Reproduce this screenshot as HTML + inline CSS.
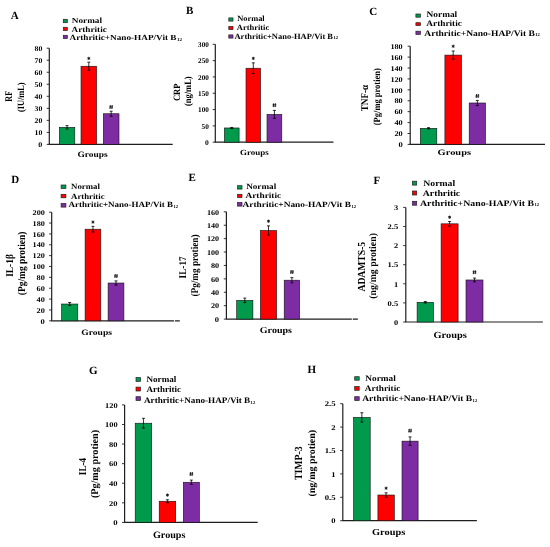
<!DOCTYPE html><html><head><meta charset="utf-8"><style>
html,body{margin:0;padding:0;background:#fff;}
svg{display:block;will-change:transform;}
text{font-family:"Liberation Serif",serif;font-weight:bold;fill:#000;text-rendering:geometricPrecision;}
</style></head><body>
<svg width="550" height="547" viewBox="0 0 550 547">
<rect width="550" height="547" fill="#fff"/>
<text x="14.7" y="18.7" font-size="11" text-anchor="middle">A</text>
<rect x="63.30" y="19.30" width="4.00" height="3.40" fill="#009A4D" stroke="#222" stroke-width="0.7"/>
<rect x="63.30" y="27.30" width="4.00" height="3.30" fill="#FF0000" stroke="#222" stroke-width="0.7"/>
<rect x="63.30" y="35.30" width="4.00" height="3.20" fill="#7D2CA3" stroke="#222" stroke-width="0.7"/>
<text x="71.8" y="22.7" font-size="7.8" textLength="30.20" lengthAdjust="spacingAndGlyphs">Normal</text>
<text x="71.6" y="31.6" font-size="7.8" textLength="35.20" lengthAdjust="spacingAndGlyphs">Arthritic</text>
<text x="69.5" y="40.2" font-size="7.8" textLength="107.00" lengthAdjust="spacingAndGlyphs">Arthritic+Nano-HAP/Vit B</text>
<text x="176.90" y="40.80" font-size="4.6" textLength="5.10" lengthAdjust="spacingAndGlyphs">12</text>
<line x1="49.3" y1="48.20" x2="49.3" y2="144.40" stroke="#1e1e1e" stroke-width="1.2"/>
<line x1="48.80" y1="144.40" x2="172.7" y2="144.40" stroke="#1e1e1e" stroke-width="1.2"/>
<line x1="46.70" y1="144.40" x2="49.3" y2="144.40" stroke="#1e1e1e" stroke-width="0.9"/>
<text x="38.25" y="147.10" font-size="7.2" textLength="4.05" lengthAdjust="spacingAndGlyphs">0</text>
<line x1="46.70" y1="132.38" x2="49.3" y2="132.38" stroke="#1e1e1e" stroke-width="0.9"/>
<text x="34.50" y="135.07" font-size="7.2" textLength="7.80" lengthAdjust="spacingAndGlyphs">10</text>
<line x1="46.70" y1="120.35" x2="49.3" y2="120.35" stroke="#1e1e1e" stroke-width="0.9"/>
<text x="34.50" y="123.05" font-size="7.2" textLength="7.80" lengthAdjust="spacingAndGlyphs">20</text>
<line x1="46.70" y1="108.33" x2="49.3" y2="108.33" stroke="#1e1e1e" stroke-width="0.9"/>
<text x="34.50" y="111.03" font-size="7.2" textLength="7.80" lengthAdjust="spacingAndGlyphs">30</text>
<line x1="46.70" y1="96.30" x2="49.3" y2="96.30" stroke="#1e1e1e" stroke-width="0.9"/>
<text x="34.50" y="99.00" font-size="7.2" textLength="7.80" lengthAdjust="spacingAndGlyphs">40</text>
<line x1="46.70" y1="84.28" x2="49.3" y2="84.28" stroke="#1e1e1e" stroke-width="0.9"/>
<text x="34.50" y="86.98" font-size="7.2" textLength="7.80" lengthAdjust="spacingAndGlyphs">50</text>
<line x1="46.70" y1="72.25" x2="49.3" y2="72.25" stroke="#1e1e1e" stroke-width="0.9"/>
<text x="34.50" y="74.95" font-size="7.2" textLength="7.80" lengthAdjust="spacingAndGlyphs">60</text>
<line x1="46.70" y1="60.22" x2="49.3" y2="60.22" stroke="#1e1e1e" stroke-width="0.9"/>
<text x="34.50" y="62.92" font-size="7.2" textLength="7.80" lengthAdjust="spacingAndGlyphs">70</text>
<line x1="46.70" y1="48.20" x2="49.3" y2="48.20" stroke="#1e1e1e" stroke-width="0.9"/>
<text x="34.50" y="50.90" font-size="7.2" textLength="7.80" lengthAdjust="spacingAndGlyphs">80</text>
<rect x="59.3" y="127.32" width="15.50" height="17.08" fill="#009A4D" stroke="#111" stroke-width="0.6"/>
<line x1="67.05" y1="125.64" x2="67.05" y2="129.01" stroke="#000" stroke-width="0.8"/>
<line x1="65.55" y1="125.64" x2="68.55" y2="125.64" stroke="#000" stroke-width="0.8"/>
<line x1="65.55" y1="129.01" x2="68.55" y2="129.01" stroke="#000" stroke-width="0.8"/>
<rect x="81.0" y="66.24" width="15.60" height="78.16" fill="#FF0000" stroke="#111" stroke-width="0.6"/>
<line x1="88.80" y1="62.15" x2="88.80" y2="70.33" stroke="#000" stroke-width="0.8"/>
<line x1="87.30" y1="62.15" x2="90.30" y2="62.15" stroke="#000" stroke-width="0.8"/>
<line x1="87.30" y1="70.33" x2="90.30" y2="70.33" stroke="#000" stroke-width="0.8"/>
<rect x="103.3" y="113.74" width="15.70" height="30.66" fill="#7D2CA3" stroke="#111" stroke-width="0.6"/>
<line x1="111.15" y1="111.21" x2="111.15" y2="116.26" stroke="#000" stroke-width="0.8"/>
<line x1="109.65" y1="111.21" x2="112.65" y2="111.21" stroke="#000" stroke-width="0.8"/>
<line x1="109.65" y1="116.26" x2="112.65" y2="116.26" stroke="#000" stroke-width="0.8"/>
<path d="M88.80,56.80V60.00M87.40,57.60L90.20,59.20M87.40,59.20L90.20,57.60" stroke="#1a1a1a" stroke-width="0.9" fill="none"/>
<circle cx="88.80" cy="58.40" r="0.8" fill="#1a1a1a"/>
<path d="M110.05,108.90L110.45,105.10M111.85,108.90L112.25,105.10" stroke="#111" stroke-width="0.9" fill="none"/>
<path d="M109.25,106.25H113.05M109.25,107.75H113.05" stroke="#111" stroke-width="0.65" fill="none"/>
<text transform="translate(11.7,96.3) scale(1.12,1) rotate(-90)" x="0" y="0" font-size="9.2" text-anchor="middle" textLength="10.8" lengthAdjust="spacingAndGlyphs">RF</text>
<text transform="translate(24.0,97.2) scale(1.12,1) rotate(-90)" x="0" y="0" font-size="8.5" text-anchor="middle" textLength="29.5" lengthAdjust="spacingAndGlyphs">(IU/mL)</text>
<text x="77.5" y="157.0" font-size="8.2" textLength="30.30" lengthAdjust="spacingAndGlyphs">Groups</text>
<text x="189.6" y="14.3" font-size="11" text-anchor="middle">B</text>
<rect x="228.80" y="17.90" width="4.20" height="3.20" fill="#009A4D" stroke="#222" stroke-width="0.7"/>
<rect x="228.80" y="26.40" width="4.20" height="3.20" fill="#FF0000" stroke="#222" stroke-width="0.7"/>
<rect x="228.80" y="34.90" width="4.20" height="3.20" fill="#7D2CA3" stroke="#222" stroke-width="0.7"/>
<text x="237.3" y="21.4" font-size="7.9" textLength="27.40" lengthAdjust="spacingAndGlyphs">Normal</text>
<text x="236.8" y="30.1" font-size="7.9" textLength="32.40" lengthAdjust="spacingAndGlyphs">Arthritic</text>
<text x="234.5" y="38.7" font-size="7.9" textLength="98.50" lengthAdjust="spacingAndGlyphs">Arthritic+Nano-HAP/Vit B</text>
<text x="333.40" y="39.30" font-size="4.6" textLength="4.60" lengthAdjust="spacingAndGlyphs">12</text>
<line x1="215.3" y1="44.30" x2="215.3" y2="142.20" stroke="#1e1e1e" stroke-width="1.2"/>
<line x1="214.80" y1="142.20" x2="333.5" y2="142.20" stroke="#1e1e1e" stroke-width="1.2"/>
<line x1="212.70" y1="142.20" x2="215.3" y2="142.20" stroke="#1e1e1e" stroke-width="0.9"/>
<text x="205.10" y="144.90" font-size="7.2" textLength="3.80" lengthAdjust="spacingAndGlyphs">0</text>
<line x1="212.70" y1="125.88" x2="215.3" y2="125.88" stroke="#1e1e1e" stroke-width="0.9"/>
<text x="201.60" y="128.58" font-size="7.2" textLength="7.30" lengthAdjust="spacingAndGlyphs">50</text>
<line x1="212.70" y1="109.57" x2="215.3" y2="109.57" stroke="#1e1e1e" stroke-width="0.9"/>
<text x="198.10" y="112.27" font-size="7.2" textLength="10.80" lengthAdjust="spacingAndGlyphs">100</text>
<line x1="212.70" y1="93.25" x2="215.3" y2="93.25" stroke="#1e1e1e" stroke-width="0.9"/>
<text x="198.10" y="95.95" font-size="7.2" textLength="10.80" lengthAdjust="spacingAndGlyphs">150</text>
<line x1="212.70" y1="76.93" x2="215.3" y2="76.93" stroke="#1e1e1e" stroke-width="0.9"/>
<text x="198.10" y="79.63" font-size="7.2" textLength="10.80" lengthAdjust="spacingAndGlyphs">200</text>
<line x1="212.70" y1="60.62" x2="215.3" y2="60.62" stroke="#1e1e1e" stroke-width="0.9"/>
<text x="198.10" y="63.32" font-size="7.2" textLength="10.80" lengthAdjust="spacingAndGlyphs">250</text>
<line x1="212.70" y1="44.30" x2="215.3" y2="44.30" stroke="#1e1e1e" stroke-width="0.9"/>
<text x="198.10" y="47.00" font-size="7.2" textLength="10.80" lengthAdjust="spacingAndGlyphs">300</text>
<rect x="224.4" y="127.97" width="14.70" height="14.23" fill="#009A4D" stroke="#111" stroke-width="0.6"/>
<line x1="231.75" y1="127.48" x2="231.75" y2="128.46" stroke="#000" stroke-width="0.8"/>
<line x1="230.25" y1="127.48" x2="233.25" y2="127.48" stroke="#000" stroke-width="0.8"/>
<line x1="230.25" y1="128.46" x2="233.25" y2="128.46" stroke="#000" stroke-width="0.8"/>
<rect x="246.0" y="68.22" width="14.60" height="73.98" fill="#FF0000" stroke="#111" stroke-width="0.6"/>
<line x1="253.30" y1="62.84" x2="253.30" y2="73.60" stroke="#000" stroke-width="0.8"/>
<line x1="251.80" y1="62.84" x2="254.80" y2="62.84" stroke="#000" stroke-width="0.8"/>
<line x1="251.80" y1="73.60" x2="254.80" y2="73.60" stroke="#000" stroke-width="0.8"/>
<rect x="267.0" y="114.40" width="14.80" height="27.80" fill="#7D2CA3" stroke="#111" stroke-width="0.6"/>
<line x1="274.40" y1="110.42" x2="274.40" y2="118.38" stroke="#000" stroke-width="0.8"/>
<line x1="272.90" y1="110.42" x2="275.90" y2="110.42" stroke="#000" stroke-width="0.8"/>
<line x1="272.90" y1="118.38" x2="275.90" y2="118.38" stroke="#000" stroke-width="0.8"/>
<path d="M253.30,56.80V60.00M251.90,57.60L254.70,59.20M251.90,59.20L254.70,57.60" stroke="#1a1a1a" stroke-width="0.9" fill="none"/>
<circle cx="253.30" cy="58.40" r="0.8" fill="#1a1a1a"/>
<path d="M273.30,107.10L273.70,103.30M275.10,107.10L275.50,103.30" stroke="#111" stroke-width="0.9" fill="none"/>
<path d="M272.50,104.45H276.30M272.50,105.95H276.30" stroke="#111" stroke-width="0.65" fill="none"/>
<text transform="translate(180.4,92.3) scale(1.12,1) rotate(-90)" x="0" y="0" font-size="8.6" text-anchor="middle" textLength="17.5" lengthAdjust="spacingAndGlyphs">CRP</text>
<text transform="translate(191.1,91.2) scale(1.12,1) rotate(-90)" x="0" y="0" font-size="8.6" text-anchor="middle" textLength="29.6" lengthAdjust="spacingAndGlyphs">(ng/mL)</text>
<text x="240.0" y="155.4" font-size="7.9" textLength="28.80" lengthAdjust="spacingAndGlyphs">Groups</text>
<text x="373.3" y="14.8" font-size="11" text-anchor="middle">C</text>
<rect x="415.90" y="14.00" width="4.50" height="3.20" fill="#009A4D" stroke="#222" stroke-width="0.7"/>
<rect x="415.90" y="22.70" width="4.50" height="2.90" fill="#FF0000" stroke="#222" stroke-width="0.7"/>
<rect x="415.90" y="31.20" width="4.50" height="3.20" fill="#7D2CA3" stroke="#222" stroke-width="0.7"/>
<text x="426.6" y="17.1" font-size="8.3" textLength="30.60" lengthAdjust="spacingAndGlyphs">Normal</text>
<text x="426.3" y="26.3" font-size="8.3" textLength="35.60" lengthAdjust="spacingAndGlyphs">Arthritic</text>
<text x="424.3" y="35.7" font-size="8.3" textLength="110.50" lengthAdjust="spacingAndGlyphs">Arthritic+Nano-HAP/Vit B</text>
<text x="535.20" y="36.30" font-size="4.6" textLength="4.60" lengthAdjust="spacingAndGlyphs">12</text>
<line x1="410.2" y1="46.20" x2="410.2" y2="144.40" stroke="#1e1e1e" stroke-width="1.2"/>
<line x1="409.70" y1="144.40" x2="545.0" y2="144.40" stroke="#1e1e1e" stroke-width="1.2"/>
<line x1="407.60" y1="144.40" x2="410.2" y2="144.40" stroke="#1e1e1e" stroke-width="0.9"/>
<text x="398.40" y="147.10" font-size="7.2" textLength="4.30" lengthAdjust="spacingAndGlyphs">0</text>
<line x1="407.60" y1="133.49" x2="410.2" y2="133.49" stroke="#1e1e1e" stroke-width="0.9"/>
<text x="394.40" y="136.19" font-size="7.2" textLength="8.30" lengthAdjust="spacingAndGlyphs">20</text>
<line x1="407.60" y1="122.58" x2="410.2" y2="122.58" stroke="#1e1e1e" stroke-width="0.9"/>
<text x="394.40" y="125.28" font-size="7.2" textLength="8.30" lengthAdjust="spacingAndGlyphs">40</text>
<line x1="407.60" y1="111.67" x2="410.2" y2="111.67" stroke="#1e1e1e" stroke-width="0.9"/>
<text x="394.40" y="114.37" font-size="7.2" textLength="8.30" lengthAdjust="spacingAndGlyphs">60</text>
<line x1="407.60" y1="100.76" x2="410.2" y2="100.76" stroke="#1e1e1e" stroke-width="0.9"/>
<text x="394.40" y="103.46" font-size="7.2" textLength="8.30" lengthAdjust="spacingAndGlyphs">80</text>
<line x1="407.60" y1="89.84" x2="410.2" y2="89.84" stroke="#1e1e1e" stroke-width="0.9"/>
<text x="390.40" y="92.54" font-size="7.2" textLength="12.30" lengthAdjust="spacingAndGlyphs">100</text>
<line x1="407.60" y1="78.93" x2="410.2" y2="78.93" stroke="#1e1e1e" stroke-width="0.9"/>
<text x="390.40" y="81.63" font-size="7.2" textLength="12.30" lengthAdjust="spacingAndGlyphs">120</text>
<line x1="407.60" y1="68.02" x2="410.2" y2="68.02" stroke="#1e1e1e" stroke-width="0.9"/>
<text x="390.40" y="70.72" font-size="7.2" textLength="12.30" lengthAdjust="spacingAndGlyphs">140</text>
<line x1="407.60" y1="57.11" x2="410.2" y2="57.11" stroke="#1e1e1e" stroke-width="0.9"/>
<text x="390.40" y="59.81" font-size="7.2" textLength="12.30" lengthAdjust="spacingAndGlyphs">160</text>
<line x1="407.60" y1="46.20" x2="410.2" y2="46.20" stroke="#1e1e1e" stroke-width="0.9"/>
<text x="390.40" y="48.90" font-size="7.2" textLength="12.30" lengthAdjust="spacingAndGlyphs">180</text>
<rect x="420.3" y="128.31" width="16.50" height="16.09" fill="#009A4D" stroke="#111" stroke-width="0.6"/>
<line x1="428.55" y1="127.65" x2="428.55" y2="128.96" stroke="#000" stroke-width="0.8"/>
<line x1="427.05" y1="127.65" x2="430.05" y2="127.65" stroke="#000" stroke-width="0.8"/>
<line x1="427.05" y1="128.96" x2="430.05" y2="128.96" stroke="#000" stroke-width="0.8"/>
<rect x="444.9" y="55.09" width="16.60" height="89.31" fill="#FF0000" stroke="#111" stroke-width="0.6"/>
<line x1="453.20" y1="51.00" x2="453.20" y2="59.18" stroke="#000" stroke-width="0.8"/>
<line x1="451.70" y1="51.00" x2="454.70" y2="51.00" stroke="#000" stroke-width="0.8"/>
<line x1="451.70" y1="59.18" x2="454.70" y2="59.18" stroke="#000" stroke-width="0.8"/>
<rect x="469.2" y="102.99" width="16.30" height="41.41" fill="#7D2CA3" stroke="#111" stroke-width="0.6"/>
<line x1="477.35" y1="100.43" x2="477.35" y2="105.56" stroke="#000" stroke-width="0.8"/>
<line x1="475.85" y1="100.43" x2="478.85" y2="100.43" stroke="#000" stroke-width="0.8"/>
<line x1="475.85" y1="105.56" x2="478.85" y2="105.56" stroke="#000" stroke-width="0.8"/>
<path d="M453.20,44.70V47.90M451.80,45.50L454.60,47.10M451.80,47.10L454.60,45.50" stroke="#1a1a1a" stroke-width="0.9" fill="none"/>
<circle cx="453.20" cy="46.30" r="0.8" fill="#1a1a1a"/>
<path d="M476.25,97.90L476.65,94.10M478.05,97.90L478.45,94.10" stroke="#111" stroke-width="0.9" fill="none"/>
<path d="M475.45,95.25H479.25M475.45,96.75H479.25" stroke="#111" stroke-width="0.65" fill="none"/>
<text transform="translate(367.9,98.1) scale(1.12,1) rotate(-90)" x="0" y="0" font-size="9.2" text-anchor="middle" textLength="26.3" lengthAdjust="spacingAndGlyphs">TNF-α</text>
<text transform="translate(379.6,96.7) scale(1.12,1) rotate(-90)" x="0" y="0" font-size="8.5" text-anchor="middle" textLength="57.0" lengthAdjust="spacingAndGlyphs">(Pg/mg protien)</text>
<text x="437.6" y="155.1" font-size="8.2" textLength="33.40" lengthAdjust="spacingAndGlyphs">Groups</text>
<text x="15.3" y="182.8" font-size="11" text-anchor="middle">D</text>
<rect x="61.10" y="185.00" width="4.80" height="3.60" fill="#009A4D" stroke="#222" stroke-width="0.7"/>
<rect x="61.10" y="194.30" width="4.80" height="3.50" fill="#FF0000" stroke="#222" stroke-width="0.7"/>
<rect x="61.10" y="203.50" width="4.80" height="3.60" fill="#7D2CA3" stroke="#222" stroke-width="0.7"/>
<text x="71.1" y="189.2" font-size="7.9" textLength="28.80" lengthAdjust="spacingAndGlyphs">Normal</text>
<text x="71.1" y="198.5" font-size="7.9" textLength="33.50" lengthAdjust="spacingAndGlyphs">Arthritic</text>
<text x="68.5" y="207.3" font-size="7.9" textLength="104.50" lengthAdjust="spacingAndGlyphs">Arthritic+Nano-HAP/Vit B</text>
<text x="173.40" y="207.90" font-size="4.6" textLength="4.60" lengthAdjust="spacingAndGlyphs">12</text>
<line x1="51.7" y1="212.20" x2="51.7" y2="320.80" stroke="#1e1e1e" stroke-width="1.2"/>
<line x1="51.20" y1="320.80" x2="179.8" y2="320.80" stroke="#1e1e1e" stroke-width="1.2"/>
<rect x="174.0" y="319.80" width="1.00" height="2" fill="#fff"/>
<line x1="49.10" y1="320.80" x2="51.7" y2="320.80" stroke="#1e1e1e" stroke-width="0.9"/>
<text x="40.60" y="323.50" font-size="7.2" textLength="4.30" lengthAdjust="spacingAndGlyphs">0</text>
<line x1="49.10" y1="309.94" x2="51.7" y2="309.94" stroke="#1e1e1e" stroke-width="0.9"/>
<text x="36.60" y="312.64" font-size="7.2" textLength="8.30" lengthAdjust="spacingAndGlyphs">20</text>
<line x1="49.10" y1="299.08" x2="51.7" y2="299.08" stroke="#1e1e1e" stroke-width="0.9"/>
<text x="36.60" y="301.78" font-size="7.2" textLength="8.30" lengthAdjust="spacingAndGlyphs">40</text>
<line x1="49.10" y1="288.22" x2="51.7" y2="288.22" stroke="#1e1e1e" stroke-width="0.9"/>
<text x="36.60" y="290.92" font-size="7.2" textLength="8.30" lengthAdjust="spacingAndGlyphs">60</text>
<line x1="49.10" y1="277.36" x2="51.7" y2="277.36" stroke="#1e1e1e" stroke-width="0.9"/>
<text x="36.60" y="280.06" font-size="7.2" textLength="8.30" lengthAdjust="spacingAndGlyphs">80</text>
<line x1="49.10" y1="266.50" x2="51.7" y2="266.50" stroke="#1e1e1e" stroke-width="0.9"/>
<text x="32.60" y="269.20" font-size="7.2" textLength="12.30" lengthAdjust="spacingAndGlyphs">100</text>
<line x1="49.10" y1="255.64" x2="51.7" y2="255.64" stroke="#1e1e1e" stroke-width="0.9"/>
<text x="32.60" y="258.34" font-size="7.2" textLength="12.30" lengthAdjust="spacingAndGlyphs">120</text>
<line x1="49.10" y1="244.78" x2="51.7" y2="244.78" stroke="#1e1e1e" stroke-width="0.9"/>
<text x="32.60" y="247.48" font-size="7.2" textLength="12.30" lengthAdjust="spacingAndGlyphs">140</text>
<line x1="49.10" y1="233.92" x2="51.7" y2="233.92" stroke="#1e1e1e" stroke-width="0.9"/>
<text x="32.60" y="236.62" font-size="7.2" textLength="12.30" lengthAdjust="spacingAndGlyphs">160</text>
<line x1="49.10" y1="223.06" x2="51.7" y2="223.06" stroke="#1e1e1e" stroke-width="0.9"/>
<text x="32.60" y="225.76" font-size="7.2" textLength="12.30" lengthAdjust="spacingAndGlyphs">180</text>
<line x1="49.10" y1="212.20" x2="51.7" y2="212.20" stroke="#1e1e1e" stroke-width="0.9"/>
<text x="32.60" y="214.90" font-size="7.2" textLength="12.30" lengthAdjust="spacingAndGlyphs">200</text>
<rect x="61.6" y="304.02" width="16.20" height="16.78" fill="#009A4D" stroke="#111" stroke-width="0.6"/>
<line x1="69.70" y1="302.50" x2="69.70" y2="305.54" stroke="#000" stroke-width="0.8"/>
<line x1="68.20" y1="302.50" x2="71.20" y2="302.50" stroke="#000" stroke-width="0.8"/>
<line x1="68.20" y1="305.54" x2="71.20" y2="305.54" stroke="#000" stroke-width="0.8"/>
<rect x="85.1" y="229.20" width="15.70" height="91.60" fill="#FF0000" stroke="#111" stroke-width="0.6"/>
<line x1="92.95" y1="226.32" x2="92.95" y2="232.07" stroke="#000" stroke-width="0.8"/>
<line x1="91.45" y1="226.32" x2="94.45" y2="226.32" stroke="#000" stroke-width="0.8"/>
<line x1="91.45" y1="232.07" x2="94.45" y2="232.07" stroke="#000" stroke-width="0.8"/>
<rect x="108.1" y="283.01" width="15.80" height="37.79" fill="#7D2CA3" stroke="#111" stroke-width="0.6"/>
<line x1="116.00" y1="280.89" x2="116.00" y2="285.12" stroke="#000" stroke-width="0.8"/>
<line x1="114.50" y1="280.89" x2="117.50" y2="280.89" stroke="#000" stroke-width="0.8"/>
<line x1="114.50" y1="285.12" x2="117.50" y2="285.12" stroke="#000" stroke-width="0.8"/>
<path d="M92.95,220.50V223.70M91.55,221.30L94.35,222.90M91.55,222.90L94.35,221.30" stroke="#1a1a1a" stroke-width="0.9" fill="none"/>
<circle cx="92.95" cy="222.10" r="0.8" fill="#1a1a1a"/>
<path d="M114.90,277.90L115.30,274.10M116.70,277.90L117.10,274.10" stroke="#111" stroke-width="0.9" fill="none"/>
<path d="M114.10,275.25H117.90M114.10,276.75H117.90" stroke="#111" stroke-width="0.65" fill="none"/>
<text transform="translate(12.7,265.5) scale(1.12,1) rotate(-90)" x="0" y="0" font-size="9.3" text-anchor="middle" textLength="22.7" lengthAdjust="spacingAndGlyphs">IL-1β</text>
<text transform="translate(25.1,263.4) scale(1.12,1) rotate(-90)" x="0" y="0" font-size="9.4" text-anchor="middle" textLength="63.6" lengthAdjust="spacingAndGlyphs">(Pg/mg protien)</text>
<text x="81.3" y="334.5" font-size="8.2" textLength="30.70" lengthAdjust="spacingAndGlyphs">Groups</text>
<text x="192.1" y="180.9" font-size="11" text-anchor="middle">E</text>
<rect x="237.60" y="185.70" width="4.40" height="3.40" fill="#009A4D" stroke="#222" stroke-width="0.7"/>
<rect x="237.60" y="194.30" width="4.40" height="3.20" fill="#FF0000" stroke="#222" stroke-width="0.7"/>
<rect x="237.60" y="202.50" width="4.40" height="3.60" fill="#7D2CA3" stroke="#222" stroke-width="0.7"/>
<text x="246.2" y="189.2" font-size="7.9" textLength="30.00" lengthAdjust="spacingAndGlyphs">Normal</text>
<text x="245.5" y="198.0" font-size="7.9" textLength="35.70" lengthAdjust="spacingAndGlyphs">Arthritic</text>
<text x="242.6" y="206.9" font-size="7.9" textLength="108.40" lengthAdjust="spacingAndGlyphs">Arthritic+Nano-HAP/Vit B</text>
<text x="351.40" y="207.50" font-size="4.6" textLength="4.60" lengthAdjust="spacingAndGlyphs">12</text>
<line x1="226.4" y1="211.80" x2="226.4" y2="319.10" stroke="#1e1e1e" stroke-width="1.2"/>
<line x1="225.90" y1="319.10" x2="357.9" y2="319.10" stroke="#1e1e1e" stroke-width="1.2"/>
<rect x="351.8" y="318.10" width="1.00" height="2" fill="#fff"/>
<line x1="223.80" y1="319.10" x2="226.4" y2="319.10" stroke="#1e1e1e" stroke-width="0.9"/>
<text x="214.85" y="321.80" font-size="7.2" textLength="4.25" lengthAdjust="spacingAndGlyphs">0</text>
<line x1="223.80" y1="305.69" x2="226.4" y2="305.69" stroke="#1e1e1e" stroke-width="0.9"/>
<text x="210.90" y="308.39" font-size="7.2" textLength="8.20" lengthAdjust="spacingAndGlyphs">20</text>
<line x1="223.80" y1="292.28" x2="226.4" y2="292.28" stroke="#1e1e1e" stroke-width="0.9"/>
<text x="210.90" y="294.98" font-size="7.2" textLength="8.20" lengthAdjust="spacingAndGlyphs">40</text>
<line x1="223.80" y1="278.86" x2="226.4" y2="278.86" stroke="#1e1e1e" stroke-width="0.9"/>
<text x="210.90" y="281.56" font-size="7.2" textLength="8.20" lengthAdjust="spacingAndGlyphs">60</text>
<line x1="223.80" y1="265.45" x2="226.4" y2="265.45" stroke="#1e1e1e" stroke-width="0.9"/>
<text x="210.90" y="268.15" font-size="7.2" textLength="8.20" lengthAdjust="spacingAndGlyphs">80</text>
<line x1="223.80" y1="252.04" x2="226.4" y2="252.04" stroke="#1e1e1e" stroke-width="0.9"/>
<text x="206.95" y="254.74" font-size="7.2" textLength="12.15" lengthAdjust="spacingAndGlyphs">100</text>
<line x1="223.80" y1="238.62" x2="226.4" y2="238.62" stroke="#1e1e1e" stroke-width="0.9"/>
<text x="206.95" y="241.32" font-size="7.2" textLength="12.15" lengthAdjust="spacingAndGlyphs">120</text>
<line x1="223.80" y1="225.21" x2="226.4" y2="225.21" stroke="#1e1e1e" stroke-width="0.9"/>
<text x="206.95" y="227.91" font-size="7.2" textLength="12.15" lengthAdjust="spacingAndGlyphs">140</text>
<line x1="223.80" y1="211.80" x2="226.4" y2="211.80" stroke="#1e1e1e" stroke-width="0.9"/>
<text x="206.95" y="214.50" font-size="7.2" textLength="12.15" lengthAdjust="spacingAndGlyphs">160</text>
<rect x="236.7" y="300.32" width="16.20" height="18.78" fill="#009A4D" stroke="#111" stroke-width="0.6"/>
<line x1="244.80" y1="298.11" x2="244.80" y2="302.54" stroke="#000" stroke-width="0.8"/>
<line x1="243.30" y1="298.11" x2="246.30" y2="298.11" stroke="#000" stroke-width="0.8"/>
<line x1="243.30" y1="302.54" x2="246.30" y2="302.54" stroke="#000" stroke-width="0.8"/>
<rect x="260.4" y="230.51" width="16.20" height="88.59" fill="#FF0000" stroke="#111" stroke-width="0.6"/>
<line x1="268.50" y1="225.88" x2="268.50" y2="235.14" stroke="#000" stroke-width="0.8"/>
<line x1="267.00" y1="225.88" x2="270.00" y2="225.88" stroke="#000" stroke-width="0.8"/>
<line x1="267.00" y1="235.14" x2="270.00" y2="235.14" stroke="#000" stroke-width="0.8"/>
<rect x="284.2" y="280.20" width="15.40" height="38.90" fill="#7D2CA3" stroke="#111" stroke-width="0.6"/>
<line x1="291.90" y1="277.59" x2="291.90" y2="282.82" stroke="#000" stroke-width="0.8"/>
<line x1="290.40" y1="277.59" x2="293.40" y2="277.59" stroke="#000" stroke-width="0.8"/>
<line x1="290.40" y1="282.82" x2="293.40" y2="282.82" stroke="#000" stroke-width="0.8"/>
<path d="M268.50,219.60V222.80M267.10,220.40L269.90,222.00M267.10,222.00L269.90,220.40" stroke="#1a1a1a" stroke-width="0.9" fill="none"/>
<circle cx="268.50" cy="221.20" r="0.8" fill="#1a1a1a"/>
<path d="M290.80,273.90L291.20,270.10M292.60,273.90L293.00,270.10" stroke="#111" stroke-width="0.9" fill="none"/>
<path d="M290.00,271.25H293.80M290.00,272.75H293.80" stroke="#111" stroke-width="0.65" fill="none"/>
<text transform="translate(186.4,267.4) scale(1.12,1) rotate(-90)" x="0" y="0" font-size="9.2" text-anchor="middle" textLength="22.0" lengthAdjust="spacingAndGlyphs">IL-17</text>
<text transform="translate(198.0,265.5) scale(1.12,1) rotate(-90)" x="0" y="0" font-size="9.2" text-anchor="middle" textLength="62.1" lengthAdjust="spacingAndGlyphs">(Pg/mg protien)</text>
<text x="259.8" y="333.4" font-size="8.9" textLength="32.20" lengthAdjust="spacingAndGlyphs">Groups</text>
<text x="376.9" y="183.8" font-size="11" text-anchor="middle">F</text>
<rect x="412.50" y="181.20" width="4.20" height="3.90" fill="#009A4D" stroke="#222" stroke-width="0.7"/>
<rect x="412.50" y="191.00" width="4.20" height="4.00" fill="#FF0000" stroke="#222" stroke-width="0.7"/>
<rect x="412.50" y="201.30" width="4.20" height="3.90" fill="#7D2CA3" stroke="#222" stroke-width="0.7"/>
<text x="423.3" y="185.8" font-size="8.5" textLength="31.80" lengthAdjust="spacingAndGlyphs">Normal</text>
<text x="422.8" y="195.6" font-size="8.5" textLength="37.40" lengthAdjust="spacingAndGlyphs">Arthritic</text>
<text x="420.0" y="205.6" font-size="8.5" textLength="114.00" lengthAdjust="spacingAndGlyphs">Arthritic+Nano-HAP/Vit B</text>
<text x="534.40" y="206.20" font-size="4.6" textLength="4.60" lengthAdjust="spacingAndGlyphs">12</text>
<line x1="405.8" y1="207.40" x2="405.8" y2="322.00" stroke="#1e1e1e" stroke-width="1.2"/>
<line x1="405.30" y1="322.00" x2="542.9" y2="322.00" stroke="#1e1e1e" stroke-width="1.2"/>
<line x1="403.20" y1="322.00" x2="405.8" y2="322.00" stroke="#1e1e1e" stroke-width="0.9"/>
<text x="394.00" y="324.70" font-size="7.2" textLength="4.20" lengthAdjust="spacingAndGlyphs">0</text>
<line x1="403.20" y1="302.90" x2="405.8" y2="302.90" stroke="#1e1e1e" stroke-width="0.9"/>
<text x="387.50" y="305.60" font-size="7.2" textLength="10.70" lengthAdjust="spacingAndGlyphs">0.5</text>
<line x1="403.20" y1="283.80" x2="405.8" y2="283.80" stroke="#1e1e1e" stroke-width="0.9"/>
<text x="394.00" y="286.50" font-size="7.2" textLength="4.20" lengthAdjust="spacingAndGlyphs">1</text>
<line x1="403.20" y1="264.70" x2="405.8" y2="264.70" stroke="#1e1e1e" stroke-width="0.9"/>
<text x="387.50" y="267.40" font-size="7.2" textLength="10.70" lengthAdjust="spacingAndGlyphs">1.5</text>
<line x1="403.20" y1="245.60" x2="405.8" y2="245.60" stroke="#1e1e1e" stroke-width="0.9"/>
<text x="394.00" y="248.30" font-size="7.2" textLength="4.20" lengthAdjust="spacingAndGlyphs">2</text>
<line x1="403.20" y1="226.50" x2="405.8" y2="226.50" stroke="#1e1e1e" stroke-width="0.9"/>
<text x="387.50" y="229.20" font-size="7.2" textLength="10.70" lengthAdjust="spacingAndGlyphs">2.5</text>
<line x1="403.20" y1="207.40" x2="405.8" y2="207.40" stroke="#1e1e1e" stroke-width="0.9"/>
<text x="394.00" y="210.10" font-size="7.2" textLength="4.20" lengthAdjust="spacingAndGlyphs">3</text>
<rect x="417.1" y="302.29" width="16.40" height="19.71" fill="#009A4D" stroke="#111" stroke-width="0.6"/>
<line x1="425.30" y1="301.52" x2="425.30" y2="303.05" stroke="#000" stroke-width="0.8"/>
<line x1="423.80" y1="301.52" x2="426.80" y2="301.52" stroke="#000" stroke-width="0.8"/>
<line x1="423.80" y1="303.05" x2="426.80" y2="303.05" stroke="#000" stroke-width="0.8"/>
<rect x="441.1" y="223.83" width="17.00" height="98.17" fill="#FF0000" stroke="#111" stroke-width="0.6"/>
<line x1="449.60" y1="221.53" x2="449.60" y2="226.12" stroke="#000" stroke-width="0.8"/>
<line x1="448.10" y1="221.53" x2="451.10" y2="221.53" stroke="#000" stroke-width="0.8"/>
<line x1="448.10" y1="226.12" x2="451.10" y2="226.12" stroke="#000" stroke-width="0.8"/>
<rect x="466.0" y="279.98" width="17.00" height="42.02" fill="#7D2CA3" stroke="#111" stroke-width="0.6"/>
<line x1="474.50" y1="278.07" x2="474.50" y2="281.89" stroke="#000" stroke-width="0.8"/>
<line x1="473.00" y1="278.07" x2="476.00" y2="278.07" stroke="#000" stroke-width="0.8"/>
<line x1="473.00" y1="281.89" x2="476.00" y2="281.89" stroke="#000" stroke-width="0.8"/>
<path d="M449.60,215.60V218.80M448.20,216.40L451.00,218.00M448.20,218.00L451.00,216.40" stroke="#1a1a1a" stroke-width="0.9" fill="none"/>
<circle cx="449.60" cy="217.20" r="0.8" fill="#1a1a1a"/>
<path d="M473.40,274.10L473.80,270.30M475.20,274.10L475.60,270.30" stroke="#111" stroke-width="0.9" fill="none"/>
<path d="M472.60,271.45H476.40M472.60,272.95H476.40" stroke="#111" stroke-width="0.65" fill="none"/>
<text transform="translate(364.5,266.7) scale(1.12,1) rotate(-90)" x="0" y="0" font-size="9.6" text-anchor="middle" textLength="49.7" lengthAdjust="spacingAndGlyphs">ADAMTS-5</text>
<text transform="translate(375.9,265.9) scale(1.12,1) rotate(-90)" x="0" y="0" font-size="9.0" text-anchor="middle" textLength="65.8" lengthAdjust="spacingAndGlyphs">(ng/mg protien)</text>
<text x="433.4" y="337.8" font-size="9.3" textLength="33.40" lengthAdjust="spacingAndGlyphs">Groups</text>
<text x="93.2" y="373.6" font-size="11" text-anchor="middle">G</text>
<rect x="136.00" y="377.60" width="4.50" height="3.80" fill="#009A4D" stroke="#222" stroke-width="0.7"/>
<rect x="136.00" y="387.10" width="4.50" height="3.90" fill="#FF0000" stroke="#222" stroke-width="0.7"/>
<rect x="136.00" y="396.70" width="4.50" height="3.80" fill="#7D2CA3" stroke="#222" stroke-width="0.7"/>
<text x="146.5" y="381.9" font-size="8.5" textLength="29.80" lengthAdjust="spacingAndGlyphs">Normal</text>
<text x="146.5" y="392.0" font-size="8.5" textLength="34.40" lengthAdjust="spacingAndGlyphs">Arthritic</text>
<text x="144.0" y="402.9" font-size="8.5" textLength="106.20" lengthAdjust="spacingAndGlyphs">Arthritic+Nano-HAP/Vit B</text>
<text x="250.60" y="403.50" font-size="4.6" textLength="4.60" lengthAdjust="spacingAndGlyphs">12</text>
<line x1="124.6" y1="404.90" x2="124.6" y2="522.40" stroke="#1e1e1e" stroke-width="1.2"/>
<line x1="124.10" y1="522.40" x2="257.7" y2="522.40" stroke="#1e1e1e" stroke-width="1.2"/>
<line x1="122.00" y1="522.40" x2="124.6" y2="522.40" stroke="#1e1e1e" stroke-width="0.9"/>
<text x="113.20" y="525.10" font-size="7.2" textLength="4.40" lengthAdjust="spacingAndGlyphs">0</text>
<line x1="122.00" y1="502.82" x2="124.6" y2="502.82" stroke="#1e1e1e" stroke-width="0.9"/>
<text x="109.10" y="505.52" font-size="7.2" textLength="8.50" lengthAdjust="spacingAndGlyphs">20</text>
<line x1="122.00" y1="483.23" x2="124.6" y2="483.23" stroke="#1e1e1e" stroke-width="0.9"/>
<text x="109.10" y="485.93" font-size="7.2" textLength="8.50" lengthAdjust="spacingAndGlyphs">40</text>
<line x1="122.00" y1="463.65" x2="124.6" y2="463.65" stroke="#1e1e1e" stroke-width="0.9"/>
<text x="109.10" y="466.35" font-size="7.2" textLength="8.50" lengthAdjust="spacingAndGlyphs">60</text>
<line x1="122.00" y1="444.07" x2="124.6" y2="444.07" stroke="#1e1e1e" stroke-width="0.9"/>
<text x="109.10" y="446.77" font-size="7.2" textLength="8.50" lengthAdjust="spacingAndGlyphs">80</text>
<line x1="122.00" y1="424.48" x2="124.6" y2="424.48" stroke="#1e1e1e" stroke-width="0.9"/>
<text x="105.00" y="427.18" font-size="7.2" textLength="12.60" lengthAdjust="spacingAndGlyphs">100</text>
<line x1="122.00" y1="404.90" x2="124.6" y2="404.90" stroke="#1e1e1e" stroke-width="0.9"/>
<text x="105.00" y="407.60" font-size="7.2" textLength="12.60" lengthAdjust="spacingAndGlyphs">120</text>
<rect x="135.2" y="423.21" width="16.50" height="99.19" fill="#009A4D" stroke="#111" stroke-width="0.6"/>
<line x1="143.45" y1="418.31" x2="143.45" y2="428.11" stroke="#000" stroke-width="0.8"/>
<line x1="141.95" y1="418.31" x2="144.95" y2="418.31" stroke="#000" stroke-width="0.8"/>
<line x1="141.95" y1="428.11" x2="144.95" y2="428.11" stroke="#000" stroke-width="0.8"/>
<rect x="159.2" y="501.25" width="16.50" height="21.15" fill="#FF0000" stroke="#111" stroke-width="0.6"/>
<line x1="167.45" y1="499.78" x2="167.45" y2="502.72" stroke="#000" stroke-width="0.8"/>
<line x1="165.95" y1="499.78" x2="168.95" y2="499.78" stroke="#000" stroke-width="0.8"/>
<line x1="165.95" y1="502.72" x2="168.95" y2="502.72" stroke="#000" stroke-width="0.8"/>
<rect x="183.3" y="482.25" width="16.10" height="40.15" fill="#7D2CA3" stroke="#111" stroke-width="0.6"/>
<line x1="191.35" y1="480.10" x2="191.35" y2="484.41" stroke="#000" stroke-width="0.8"/>
<line x1="189.85" y1="480.10" x2="192.85" y2="480.10" stroke="#000" stroke-width="0.8"/>
<line x1="189.85" y1="484.41" x2="192.85" y2="484.41" stroke="#000" stroke-width="0.8"/>
<path d="M167.45,493.50V496.70M166.05,494.30L168.85,495.90M166.05,495.90L168.85,494.30" stroke="#1a1a1a" stroke-width="0.9" fill="none"/>
<circle cx="167.45" cy="495.10" r="0.8" fill="#1a1a1a"/>
<path d="M190.25,475.90L190.65,472.10M192.05,475.90L192.45,472.10" stroke="#111" stroke-width="0.9" fill="none"/>
<path d="M189.45,473.25H193.25M189.45,474.75H193.25" stroke="#111" stroke-width="0.65" fill="none"/>
<text transform="translate(85.6,466.5) scale(1.12,1) rotate(-90)" x="0" y="0" font-size="9.4" text-anchor="middle" textLength="17.3" lengthAdjust="spacingAndGlyphs">IL-4</text>
<text transform="translate(97.6,464.0) scale(1.12,1) rotate(-90)" x="0" y="0" font-size="9.2" text-anchor="middle" textLength="68.2" lengthAdjust="spacingAndGlyphs">(Pg/mg protien)</text>
<text x="153.0" y="538.2" font-size="9.8" textLength="32.40" lengthAdjust="spacingAndGlyphs">Groups</text>
<text x="311.8" y="372.6" font-size="11" text-anchor="middle">H</text>
<rect x="354.70" y="376.70" width="4.50" height="3.50" fill="#009A4D" stroke="#222" stroke-width="0.7"/>
<rect x="354.70" y="386.50" width="4.50" height="3.80" fill="#FF0000" stroke="#222" stroke-width="0.7"/>
<rect x="354.70" y="396.70" width="4.50" height="3.80" fill="#7D2CA3" stroke="#222" stroke-width="0.7"/>
<text x="365.3" y="380.7" font-size="8.4" textLength="30.50" lengthAdjust="spacingAndGlyphs">Normal</text>
<text x="364.8" y="390.8" font-size="8.4" textLength="35.60" lengthAdjust="spacingAndGlyphs">Arthritic</text>
<text x="362.2" y="401.3" font-size="8.4" textLength="110.00" lengthAdjust="spacingAndGlyphs">Arthritic+Nano-HAP/Vit B</text>
<text x="472.60" y="401.90" font-size="4.6" textLength="4.60" lengthAdjust="spacingAndGlyphs">12</text>
<line x1="342.8" y1="403.70" x2="342.8" y2="520.70" stroke="#1e1e1e" stroke-width="1.2"/>
<line x1="342.30" y1="520.70" x2="476.9" y2="520.70" stroke="#1e1e1e" stroke-width="1.2"/>
<line x1="340.20" y1="520.70" x2="342.8" y2="520.70" stroke="#1e1e1e" stroke-width="0.9"/>
<text x="331.30" y="523.40" font-size="7.2" textLength="4.30" lengthAdjust="spacingAndGlyphs">0</text>
<line x1="340.20" y1="497.30" x2="342.8" y2="497.30" stroke="#1e1e1e" stroke-width="0.9"/>
<text x="324.70" y="500.00" font-size="7.2" textLength="10.90" lengthAdjust="spacingAndGlyphs">0.5</text>
<line x1="340.20" y1="473.90" x2="342.8" y2="473.90" stroke="#1e1e1e" stroke-width="0.9"/>
<text x="331.30" y="476.60" font-size="7.2" textLength="4.30" lengthAdjust="spacingAndGlyphs">1</text>
<line x1="340.20" y1="450.50" x2="342.8" y2="450.50" stroke="#1e1e1e" stroke-width="0.9"/>
<text x="324.70" y="453.20" font-size="7.2" textLength="10.90" lengthAdjust="spacingAndGlyphs">1.5</text>
<line x1="340.20" y1="427.10" x2="342.8" y2="427.10" stroke="#1e1e1e" stroke-width="0.9"/>
<text x="331.30" y="429.80" font-size="7.2" textLength="4.30" lengthAdjust="spacingAndGlyphs">2</text>
<line x1="340.20" y1="403.70" x2="342.8" y2="403.70" stroke="#1e1e1e" stroke-width="0.9"/>
<text x="324.70" y="406.40" font-size="7.2" textLength="10.90" lengthAdjust="spacingAndGlyphs">2.5</text>
<rect x="353.5" y="417.41" width="16.70" height="103.29" fill="#009A4D" stroke="#111" stroke-width="0.6"/>
<line x1="361.85" y1="412.73" x2="361.85" y2="422.09" stroke="#000" stroke-width="0.8"/>
<line x1="360.35" y1="412.73" x2="363.35" y2="412.73" stroke="#000" stroke-width="0.8"/>
<line x1="360.35" y1="422.09" x2="363.35" y2="422.09" stroke="#000" stroke-width="0.8"/>
<rect x="377.9" y="495.01" width="16.40" height="25.69" fill="#FF0000" stroke="#111" stroke-width="0.6"/>
<line x1="386.10" y1="492.81" x2="386.10" y2="497.21" stroke="#000" stroke-width="0.8"/>
<line x1="384.60" y1="492.81" x2="387.60" y2="492.81" stroke="#000" stroke-width="0.8"/>
<line x1="384.60" y1="497.21" x2="387.60" y2="497.21" stroke="#000" stroke-width="0.8"/>
<rect x="402.0" y="441.14" width="16.10" height="79.56" fill="#7D2CA3" stroke="#111" stroke-width="0.6"/>
<line x1="410.05" y1="436.93" x2="410.05" y2="445.35" stroke="#000" stroke-width="0.8"/>
<line x1="408.55" y1="436.93" x2="411.55" y2="436.93" stroke="#000" stroke-width="0.8"/>
<line x1="408.55" y1="445.35" x2="411.55" y2="445.35" stroke="#000" stroke-width="0.8"/>
<path d="M386.10,486.60V489.80M384.70,487.40L387.50,489.00M384.70,489.00L387.50,487.40" stroke="#1a1a1a" stroke-width="0.9" fill="none"/>
<circle cx="386.10" cy="488.20" r="0.8" fill="#1a1a1a"/>
<path d="M408.95,432.60L409.35,428.80M410.75,432.60L411.15,428.80" stroke="#111" stroke-width="0.9" fill="none"/>
<path d="M408.15,429.95H411.95M408.15,431.45H411.95" stroke="#111" stroke-width="0.65" fill="none"/>
<text transform="translate(302.3,463.2) scale(1.12,1) rotate(-90)" x="0" y="0" font-size="9.8" text-anchor="middle" textLength="33.7" lengthAdjust="spacingAndGlyphs">TIMP-3</text>
<text transform="translate(314.5,463.2) scale(1.12,1) rotate(-90)" x="0" y="0" font-size="8.9" text-anchor="middle" textLength="66.6" lengthAdjust="spacingAndGlyphs">(ng/mg protien)</text>
<text x="372.0" y="535.0" font-size="9.2" textLength="33.20" lengthAdjust="spacingAndGlyphs">Groups</text>
</svg></body></html>
